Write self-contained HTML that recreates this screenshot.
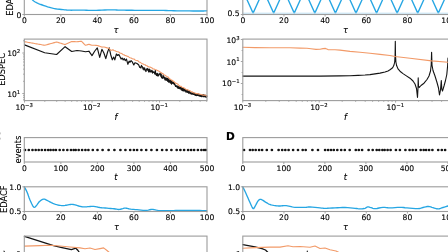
<!DOCTYPE html>
<html><head><meta charset="utf-8"><style>
html,body{margin:0;padding:0;background:#fff;}
body{width:448px;height:252px;overflow:hidden;}
svg{display:block;}
text{font-family:"DejaVu Sans","Liberation Sans",sans-serif;fill:#000000;stroke:#000000;stroke-width:0.12px;}
</style></head><body>
<svg width="448" height="252" viewBox="0 0 448 252">
<rect width="448" height="252" fill="#fff"/>
<polyline points="24.30,-10.30 24.70,-9.91 25.26,-9.38 25.92,-8.74 26.63,-8.03 27.34,-7.28 28.00,-6.50 28.61,-5.66 29.23,-4.71 29.84,-3.71 30.45,-2.73 31.07,-1.80 31.70,-1.00 32.31,-0.33 32.88,0.25 33.46,0.77 34.09,1.25 34.79,1.72 35.60,2.20 36.50,2.68 37.46,3.14 38.49,3.59 39.63,4.04 40.89,4.50 42.30,5.00 43.91,5.56 45.70,6.16 47.62,6.79 49.61,7.39 51.59,7.94 53.50,8.40 55.42,8.76 57.42,9.05 59.41,9.29 61.33,9.48 63.08,9.65 64.60,9.80 65.78,9.93 66.65,10.03 67.37,10.09 68.07,10.14 68.90,10.17 70.00,10.20 71.36,10.21 72.86,10.19 74.49,10.16 76.24,10.12 78.08,10.10 80.00,10.10 82.01,10.14 84.13,10.20 86.34,10.28 88.65,10.35 91.04,10.40 93.50,10.40 96.15,10.34 99.02,10.23 101.97,10.10 104.87,9.97 107.59,9.86 110.00,9.80 111.98,9.80 113.63,9.84 115.09,9.90 116.54,9.97 118.12,10.05 120.00,10.10 122.09,10.14 124.26,10.18 126.56,10.21 129.07,10.24 131.86,10.27 135.00,10.30 138.68,10.32 142.89,10.33 147.38,10.34 151.89,10.35 156.18,10.37 160.00,10.40 163.23,10.45 166.04,10.52 168.62,10.59 171.19,10.67 173.91,10.74 177.00,10.80 180.68,10.85 184.83,10.90 189.15,10.94 193.33,10.97 197.05,10.99 200.00,11.00 202.13,10.99 203.66,10.96 204.74,10.91 205.50,10.87 206.07,10.83 206.60,10.80" fill="none" stroke="#26a6e3" stroke-width="1.35" stroke-linejoin="round" stroke-linecap="round" />
<polyline points="242.80,-9.60 253.09,13.10 263.38,-9.60 273.67,13.10 283.96,-9.60 294.25,13.10 304.54,-9.60 314.83,13.10 325.12,-9.60 335.41,13.10 345.70,-9.60 355.99,13.10 366.28,-9.60 376.57,13.10 386.86,-9.60 397.15,13.10 407.44,-9.60 417.73,13.10 428.02,-9.60 438.31,13.10 448.60,-9.60 458.89,13.10 469.18,-9.60" fill="none" stroke="#26a6e3" stroke-width="1.35" stroke-linejoin="round" stroke-linecap="round" />
<line x1="242.80" y1="13.20" x2="448.00" y2="13.20" stroke="#bfe3f4" stroke-width="1.0"/>
<rect x="24.30" y="-10.30" width="182.70" height="24.80" fill="none" stroke="#9c9c9c" stroke-width="1.1"/>
<rect x="242.80" y="-10.30" width="205.80" height="24.80" fill="none" stroke="#9c9c9c" stroke-width="1.1"/>
<line x1="24.30" y1="14.50" x2="24.30" y2="16.50" stroke="#9c9c9c" stroke-width="0.9"/>
<text x="24.30" y="23.40" text-anchor="middle" font-size="7.6" >0</text>
<line x1="242.80" y1="14.50" x2="242.80" y2="16.50" stroke="#9c9c9c" stroke-width="0.9"/>
<text x="242.80" y="23.40" text-anchor="middle" font-size="7.6" >0</text>
<line x1="60.84" y1="14.50" x2="60.84" y2="16.50" stroke="#9c9c9c" stroke-width="0.9"/>
<text x="60.84" y="23.40" text-anchor="middle" font-size="7.6" >20</text>
<line x1="283.96" y1="14.50" x2="283.96" y2="16.50" stroke="#9c9c9c" stroke-width="0.9"/>
<text x="283.96" y="23.40" text-anchor="middle" font-size="7.6" >20</text>
<line x1="97.38" y1="14.50" x2="97.38" y2="16.50" stroke="#9c9c9c" stroke-width="0.9"/>
<text x="97.38" y="23.40" text-anchor="middle" font-size="7.6" >40</text>
<line x1="325.12" y1="14.50" x2="325.12" y2="16.50" stroke="#9c9c9c" stroke-width="0.9"/>
<text x="325.12" y="23.40" text-anchor="middle" font-size="7.6" >40</text>
<line x1="133.92" y1="14.50" x2="133.92" y2="16.50" stroke="#9c9c9c" stroke-width="0.9"/>
<text x="133.92" y="23.40" text-anchor="middle" font-size="7.6" >60</text>
<line x1="366.28" y1="14.50" x2="366.28" y2="16.50" stroke="#9c9c9c" stroke-width="0.9"/>
<text x="366.28" y="23.40" text-anchor="middle" font-size="7.6" >60</text>
<line x1="170.46" y1="14.50" x2="170.46" y2="16.50" stroke="#9c9c9c" stroke-width="0.9"/>
<text x="170.46" y="23.40" text-anchor="middle" font-size="7.6" >80</text>
<line x1="407.44" y1="14.50" x2="407.44" y2="16.50" stroke="#9c9c9c" stroke-width="0.9"/>
<text x="407.44" y="23.40" text-anchor="middle" font-size="7.6" >80</text>
<line x1="207.00" y1="14.50" x2="207.00" y2="16.50" stroke="#9c9c9c" stroke-width="0.9"/>
<text x="207.00" y="23.40" text-anchor="middle" font-size="7.6" >100</text>
<line x1="448.60" y1="14.50" x2="448.60" y2="16.50" stroke="#9c9c9c" stroke-width="0.9"/>
<text x="448.60" y="23.40" text-anchor="middle" font-size="7.6" >100</text>
<line x1="22.30" y1="14.50" x2="24.30" y2="14.50" stroke="#9c9c9c" stroke-width="0.9"/>
<text x="21.40" y="17.60" text-anchor="end" font-size="7.6" >0</text>
<line x1="240.80" y1="14.50" x2="242.80" y2="14.50" stroke="#9c9c9c" stroke-width="0.9"/>
<text x="239.60" y="16.10" text-anchor="end" font-size="7.6" >0.5</text>
<text x="116.00" y="32.50" text-anchor="middle" font-size="8.3" font-style="italic">τ</text>
<text x="345.40" y="32.50" text-anchor="middle" font-size="8.3" font-style="italic">τ</text>
<text transform="translate(13.0,2.0) rotate(-90)" text-anchor="middle" font-size="8.3">EDACF</text>
<polyline points="24.50,44.90 44.70,52.70 56.60,54.50 65.10,46.70 71.70,51.50 77.00,50.50 81.50,51.00 85.50,51.70 88.90,51.20 92.00,55.60 94.80,51.00 97.30,47.90 99.70,57.40 101.90,49.30 103.90,53.00 105.80,58.60 107.60,52.00 109.20,47.90 110.80,55.00 112.30,59.80 113.70,57.00 114.80,59.90 116.40,54.00 117.70,55.50 118.90,54.50 120.00,56.70 121.10,59.10 122.20,58.00 123.20,59.90 124.20,58.50 125.30,60.70 126.40,59.00 127.90,64.30 129.10,61.10 129.90,62.30 131.10,60.70 132.30,61.90 133.80,65.00 135.00,62.70 137.00,63.50 138.60,64.70 139.80,67.40 140.33,67.01 140.89,68.04 141.44,65.38 141.97,66.46 142.50,66.78 143.02,69.18 143.53,67.75 144.03,70.01 144.53,67.81 145.01,69.11 145.49,70.62 145.96,71.54 146.42,69.58 146.87,68.66 147.32,68.41 147.76,70.35 148.19,69.11 148.62,71.91 149.04,72.06 149.46,69.14 149.87,69.40 150.27,71.60 150.67,71.21 151.07,72.16 151.45,70.79 151.84,70.27 152.22,71.04 152.59,73.12 152.96,71.39 153.32,71.88 153.68,72.31 154.04,72.37 154.39,72.24 154.74,74.03 155.08,71.09 155.42,70.59 155.75,74.35 156.08,74.48 156.41,75.29 156.74,73.59 157.06,75.76 157.37,75.82 157.69,73.33 158.00,75.43 158.30,75.91 158.61,75.40 158.91,74.98 159.21,74.14 159.50,74.26 159.79,73.74 160.08,73.09 160.37,75.08 160.65,74.11 160.93,76.35 161.21,73.83 161.48,77.41 161.76,76.97 162.03,78.10 162.29,78.17 162.56,78.31 162.82,77.20 163.08,75.19 163.34,78.02 163.60,75.97 163.85,76.58 164.10,78.10 164.35,77.79 164.60,77.60 164.84,79.80 165.09,78.81 165.33,78.00 165.57,77.85 165.81,80.27 166.04,78.92 166.28,80.13 166.51,78.57 166.74,78.05 166.96,79.39 167.19,80.55 167.42,78.28 167.64,80.80 167.86,81.52 168.08,81.33 168.30,81.65 168.51,78.84 168.73,81.39 168.94,82.44 169.15,79.55 169.36,80.53 169.57,80.67 169.78,81.79 169.99,81.55 170.19,81.89 170.39,83.17 170.59,80.41 170.79,80.74 170.99,81.07 171.19,81.06 171.39,80.82 171.58,84.15 171.77,83.65 171.97,80.75 172.16,82.51 172.35,82.09 172.54,82.22 172.72,82.46 172.91,83.40 173.09,83.37 173.28,82.89 173.46,82.57 173.64,83.07 173.82,82.65 174.00,83.95 174.18,84.52 174.36,83.77 174.53,83.15 174.71,83.63 174.88,84.38 175.06,85.24 175.23,85.93 175.40,85.03 175.57,86.34 175.74,86.00 175.91,85.59 176.07,85.56 176.24,86.03 176.40,86.74 176.57,86.12 176.73,87.02 176.89,86.53 177.05,86.09 177.22,87.01 177.38,87.56 177.53,85.97 177.69,87.01 177.85,87.05 178.01,88.31 178.16,88.46 178.32,86.92 178.47,88.34 178.62,88.04 178.78,86.62 178.93,87.19 179.08,86.32 179.23,88.28 179.38,87.97 179.52,88.69 179.67,88.55 179.82,88.33 179.97,88.63 180.11,88.28 180.26,87.12 180.40,88.53 180.54,87.04 180.69,87.50 180.83,89.29 180.97,87.38 181.11,87.58 181.25,87.68 181.39,89.88 181.53,88.06 181.67,87.72 181.80,90.03 181.94,88.15 182.08,90.20 182.21,89.82 182.35,90.33 182.48,90.72 182.61,89.77 182.75,90.43 182.88,88.40 183.01,90.43 183.14,89.77 183.27,90.35 183.40,88.73 183.53,90.50 183.66,91.03 183.79,88.69 183.92,89.44 184.04,90.13 184.17,90.90 184.30,89.36 184.42,89.25 184.55,89.50 184.67,90.56 184.80,91.00 184.92,90.09 185.04,90.08 185.16,90.21 185.29,90.14 185.41,90.38 185.53,89.53 185.65,90.72 185.77,92.05 185.89,90.58 186.01,91.54 186.13,90.00 186.24,91.49 186.36,91.71 186.48,91.53 186.59,91.15 186.71,91.10 186.83,91.58 186.94,92.31 187.06,90.32 187.17,90.22 187.28,92.03 187.40,92.54 187.51,91.49 187.62,91.34 187.74,92.13 187.85,90.73 187.96,91.00 188.07,90.87 188.18,91.97 188.29,91.29 188.40,91.11 188.51,92.41 188.62,93.18 188.73,91.44 188.83,92.61 188.94,91.86 189.05,93.11 189.15,92.43 189.26,91.61 189.37,91.52 189.47,91.04 189.58,92.33 189.68,92.12 189.79,91.61 189.89,92.18 190.00,92.14 190.10,93.21 190.20,92.08 190.30,93.71 190.41,92.80 190.51,93.07 190.61,92.87 190.71,93.60 190.81,93.62 190.91,93.17 191.01,93.06 191.11,93.54 191.21,93.83 191.31,93.00 191.41,93.64 191.51,94.08 191.61,93.18 191.71,92.75 191.80,92.77 191.90,93.69 192.00,93.62 192.09,94.16 192.19,93.98 192.29,92.85 192.38,92.76 192.48,92.91 192.57,92.80 192.67,93.79 192.76,94.10 192.86,94.21 192.95,93.03 193.04,94.21 193.14,93.21 193.23,93.45 193.32,94.05 193.41,92.88 193.51,92.93 193.60,94.35 193.69,93.37 193.78,93.52 193.87,93.98 193.96,94.19 194.05,92.97 194.14,93.62 194.23,93.84 194.32,93.96 194.41,93.47 194.50,94.20 194.59,94.93 194.68,93.91 194.76,94.23 194.85,93.48 194.94,93.82 195.03,94.59 195.12,93.60 195.20,95.09 195.29,95.17 195.37,93.70 195.46,95.32 195.55,94.31 195.63,95.09 195.72,95.10 195.80,94.28 195.89,95.02 195.97,95.02 196.06,95.33 196.14,94.34 196.22,95.28 196.31,95.68 196.39,95.15 196.47,94.89 196.56,94.09 196.64,94.80 196.72,94.52 196.81,95.18 196.89,95.09 196.97,94.86 197.05,94.12 197.13,94.97 197.21,94.92 197.29,94.05 197.37,95.37 197.45,94.91 197.53,93.91 197.61,95.41 197.69,93.93 197.77,94.30 197.85,95.03 197.93,94.82 198.01,94.77 198.09,94.97 198.17,94.65 198.25,94.41 198.33,94.19 198.40,94.03 198.48,95.29 198.56,95.40 198.64,95.06 198.71,95.47 198.79,94.81 198.87,94.68 198.94,94.94 199.02,95.90 199.09,94.39 199.17,95.30 199.25,94.85 199.32,95.86 199.40,95.12 199.47,95.11 199.55,95.26 199.62,95.54 199.70,95.99 199.77,95.23 199.84,96.17 199.92,94.82 199.99,95.14 200.07,94.84 200.14,94.88 200.21,96.14 200.29,96.06 200.36,95.07 200.43,95.09 200.50,95.53 200.58,96.16 200.65,96.32 200.72,96.21 200.79,95.93 200.86,95.11 200.93,95.60 201.01,95.23 201.08,95.87 201.15,95.96 201.22,95.29 201.29,95.39 201.36,96.39 201.43,94.99 201.50,96.44 201.57,96.60 201.64,96.71 201.71,95.64 201.78,95.95 201.85,96.00 201.92,96.09 201.99,96.72 202.05,96.17 202.12,95.43 202.19,96.47 202.26,95.76 202.33,95.97 202.40,96.19 202.46,94.83 202.53,96.26 202.60,96.05 202.67,95.73 202.73,95.79 202.80,95.67 202.87,95.17 202.93,95.80 203.00,94.89 203.07,95.77 203.13,96.05 203.20,95.68 203.26,95.91 203.33,96.65 203.40,96.53 203.46,95.12 203.53,96.36 203.59,96.05 203.66,94.98 203.72,95.56 203.79,95.33 203.85,95.05 203.92,95.91 203.98,96.65 204.04,95.52 204.11,96.55 204.17,96.23 204.24,95.18 204.30,96.54 204.36,96.07 204.43,96.68 204.49,96.29 204.55,96.35 204.62,95.61 204.68,96.49 204.74,96.73 204.80,96.61 204.87,95.83 204.93,96.45 204.99,95.96 205.05,95.28 205.12,95.18 205.18,95.28 205.24,95.53 205.30,95.49 205.36,96.15 205.42,96.56 205.48,96.29 205.54,96.11 205.61,96.56 205.67,95.95 205.73,96.28 205.79,96.86 205.85,96.22 205.91,95.84 205.97,97.21 206.03,96.90 206.09,96.26 206.15,96.29 206.21,96.60 206.27,96.75 206.33,96.06 206.39,95.66 206.45,96.05 206.50,97.13 206.56,95.94 206.62,96.53 206.68,96.03 206.74,96.05 206.80,95.97 206.80,96.40" fill="none" stroke="#141414" stroke-width="1.15" stroke-linejoin="round" stroke-linecap="round" />
<polyline points="24.50,41.70 25.51,41.88 26.52,42.06 27.53,42.24 28.54,42.42 29.55,42.60 30.56,42.78 31.57,42.96 32.58,43.14 33.59,43.32 34.60,43.50 35.61,43.68 36.62,43.86 37.63,44.04 38.64,44.22 39.65,44.40 40.66,44.58 41.67,44.76 42.68,44.94 43.69,45.12 44.70,45.30 45.78,45.00 46.86,44.70 47.95,44.40 49.03,44.10 50.11,43.80 51.19,43.50 52.27,43.20 53.35,42.90 54.44,42.60 55.52,42.30 56.60,42.00 57.66,42.33 58.73,42.65 59.79,42.98 60.85,43.30 61.91,43.62 62.97,43.95 64.04,44.27 65.10,44.60 66.20,44.10 67.30,43.60 68.40,43.10 69.50,42.60 70.60,42.10 71.70,41.60 72.76,41.62 73.82,41.64 74.88,41.66 75.94,41.68 77.00,41.70 78.08,41.58 79.15,41.45 80.22,41.33 81.30,41.20 82.35,42.23 83.40,43.25 84.45,44.27 85.50,45.30 86.63,44.97 87.77,44.63 88.90,44.30 89.93,44.63 90.97,44.97 92.00,45.30 93.40,45.25 94.80,45.20 96.05,45.35 97.30,45.50 98.50,45.85 99.70,46.20 100.80,46.65 101.90,47.10 102.95,47.05 104.00,47.00 105.13,47.30 106.27,47.60 107.40,47.90 109.20,48.60 110.80,50.30 111.90,50.15 113.00,49.82 114.00,50.43 115.00,50.71 116.00,51.31 117.00,51.77 118.00,51.82 119.00,52.22 120.00,53.24 121.00,53.27 122.00,53.69 123.00,54.67 124.00,54.74 125.00,55.44 126.00,55.64 127.00,56.22 128.00,56.34 129.00,57.13 130.00,57.76 131.00,57.97 132.00,58.57 133.00,58.97 134.00,58.99 135.00,59.91 136.00,60.23 137.00,60.46 138.00,60.81 139.00,61.92 140.00,62.18 141.00,62.87 142.00,63.51 143.00,63.91 144.00,64.57 145.00,64.73 146.00,65.51 147.00,65.76 148.00,66.60 149.00,67.07 150.00,67.02 151.00,67.47 152.00,67.94 153.00,68.89 154.00,68.94 155.00,69.49 156.00,69.74 157.00,70.37 158.00,70.76 159.00,71.22 160.00,71.86 161.00,72.48 162.00,73.33 163.00,73.80 164.00,74.60 165.00,75.27 166.00,76.09 167.00,76.59 168.00,76.96 169.00,78.20 170.00,79.03 171.00,79.73 172.00,80.25 173.00,81.12 174.00,81.53 175.00,82.73 176.00,83.25 177.00,83.75 178.00,84.29 179.00,85.55 180.00,86.34 181.00,86.25 182.00,87.29 183.00,87.56 184.00,87.92 185.00,88.56 186.00,89.37 187.00,89.92 188.00,89.82 189.00,90.70 190.00,90.78 191.00,91.63 192.00,91.74 193.00,92.51 194.00,92.96 195.00,93.00 196.00,93.65 197.00,93.47 198.00,93.60 199.00,94.27 200.00,94.17 201.13,94.50 202.27,94.87 203.40,95.23 204.53,95.13 205.67,95.26 206.80,96.06" fill="none" stroke="#f29a68" stroke-width="1.1" stroke-linejoin="round" stroke-linecap="round" />
<polyline points="242.80,76.10 320.00,76.10 340.00,75.90 350.00,75.70 358.00,75.40 365.00,75.00 370.00,74.60 375.00,73.90 380.00,73.10 385.00,72.00 388.00,70.90 390.00,69.80 392.00,68.30 393.00,67.10 394.00,65.00 394.70,62.00 395.10,55.00 395.30,41.20 395.50,55.00 395.90,62.00 396.60,65.50 398.00,68.90 400.00,71.20 403.00,73.60 406.00,75.60 410.00,78.20 413.00,81.00 415.00,84.00 416.50,88.50 417.50,97.50 418.00,88.00 418.20,77.90 418.50,86.00 419.30,87.50 421.00,85.50 424.00,83.20 427.00,79.50 429.00,76.00 430.50,71.00 431.20,65.00 431.60,52.20 432.00,65.00 433.00,70.50 435.00,76.00 437.00,82.50 438.50,88.00 439.50,94.90 440.50,90.00 441.30,80.50 441.80,89.00 442.50,91.00 444.00,86.00 445.50,80.50 446.80,74.50 447.60,66.00 448.00,58.00" fill="none" stroke="#141414" stroke-width="1.1" stroke-linejoin="round" stroke-linecap="round" />
<polyline points="242.80,47.30 255.00,47.60 270.00,47.80 280.00,47.70 290.00,47.80 300.00,48.10 307.00,48.30 311.00,48.70 316.00,49.40 320.00,49.30 323.00,48.60 325.50,48.40 328.00,49.60 335.00,49.80 340.00,50.10 350.00,51.40 360.00,52.30 370.00,53.20 380.00,54.40 390.00,55.50 395.00,56.50 410.00,58.30 431.60,60.90 448.00,62.20" fill="none" stroke="#f29a68" stroke-width="1.1" stroke-linejoin="round" stroke-linecap="round" />
<rect x="24.30" y="39.10" width="182.70" height="61.50" fill="none" stroke="#9c9c9c" stroke-width="1.1"/>
<rect x="242.80" y="39.10" width="205.80" height="61.50" fill="none" stroke="#9c9c9c" stroke-width="1.1"/>
<line x1="24.50" y1="100.60" x2="24.50" y2="102.60" stroke="#9c9c9c" stroke-width="0.9"/>
<text x="24.20" y="110.00" text-anchor="middle" font-size="7.6">10<tspan font-size="5.32" dy="-3.2">−3</tspan></text>
<line x1="242.80" y1="100.60" x2="242.80" y2="102.60" stroke="#9c9c9c" stroke-width="0.9"/>
<text x="242.50" y="110.00" text-anchor="middle" font-size="7.6">10<tspan font-size="5.32" dy="-3.2">−3</tspan></text>
<line x1="92.00" y1="100.60" x2="92.00" y2="102.60" stroke="#9c9c9c" stroke-width="0.9"/>
<text x="91.70" y="110.00" text-anchor="middle" font-size="7.6">10<tspan font-size="5.32" dy="-3.2">−2</tspan></text>
<line x1="319.20" y1="100.60" x2="319.20" y2="102.60" stroke="#9c9c9c" stroke-width="0.9"/>
<text x="318.90" y="110.00" text-anchor="middle" font-size="7.6">10<tspan font-size="5.32" dy="-3.2">−2</tspan></text>
<line x1="159.50" y1="100.60" x2="159.50" y2="102.60" stroke="#9c9c9c" stroke-width="0.9"/>
<text x="159.20" y="110.00" text-anchor="middle" font-size="7.6">10<tspan font-size="5.32" dy="-3.2">−1</tspan></text>
<line x1="395.60" y1="100.60" x2="395.60" y2="102.60" stroke="#9c9c9c" stroke-width="0.9"/>
<text x="395.30" y="110.00" text-anchor="middle" font-size="7.6">10<tspan font-size="5.32" dy="-3.2">−1</tspan></text>
<line x1="44.82" y1="100.60" x2="44.82" y2="101.80" stroke="#9c9c9c" stroke-width="0.9"/>
<line x1="265.80" y1="100.60" x2="265.80" y2="101.80" stroke="#9c9c9c" stroke-width="0.9"/>
<line x1="56.71" y1="100.60" x2="56.71" y2="101.80" stroke="#9c9c9c" stroke-width="0.9"/>
<line x1="279.25" y1="100.60" x2="279.25" y2="101.80" stroke="#9c9c9c" stroke-width="0.9"/>
<line x1="65.14" y1="100.60" x2="65.14" y2="101.80" stroke="#9c9c9c" stroke-width="0.9"/>
<line x1="288.80" y1="100.60" x2="288.80" y2="101.80" stroke="#9c9c9c" stroke-width="0.9"/>
<line x1="71.68" y1="100.60" x2="71.68" y2="101.80" stroke="#9c9c9c" stroke-width="0.9"/>
<line x1="296.20" y1="100.60" x2="296.20" y2="101.80" stroke="#9c9c9c" stroke-width="0.9"/>
<line x1="77.03" y1="100.60" x2="77.03" y2="101.80" stroke="#9c9c9c" stroke-width="0.9"/>
<line x1="302.25" y1="100.60" x2="302.25" y2="101.80" stroke="#9c9c9c" stroke-width="0.9"/>
<line x1="81.54" y1="100.60" x2="81.54" y2="101.80" stroke="#9c9c9c" stroke-width="0.9"/>
<line x1="307.37" y1="100.60" x2="307.37" y2="101.80" stroke="#9c9c9c" stroke-width="0.9"/>
<line x1="85.46" y1="100.60" x2="85.46" y2="101.80" stroke="#9c9c9c" stroke-width="0.9"/>
<line x1="311.80" y1="100.60" x2="311.80" y2="101.80" stroke="#9c9c9c" stroke-width="0.9"/>
<line x1="88.91" y1="100.60" x2="88.91" y2="101.80" stroke="#9c9c9c" stroke-width="0.9"/>
<line x1="315.70" y1="100.60" x2="315.70" y2="101.80" stroke="#9c9c9c" stroke-width="0.9"/>
<line x1="112.32" y1="100.60" x2="112.32" y2="101.80" stroke="#9c9c9c" stroke-width="0.9"/>
<line x1="342.20" y1="100.60" x2="342.20" y2="101.80" stroke="#9c9c9c" stroke-width="0.9"/>
<line x1="124.21" y1="100.60" x2="124.21" y2="101.80" stroke="#9c9c9c" stroke-width="0.9"/>
<line x1="355.65" y1="100.60" x2="355.65" y2="101.80" stroke="#9c9c9c" stroke-width="0.9"/>
<line x1="132.64" y1="100.60" x2="132.64" y2="101.80" stroke="#9c9c9c" stroke-width="0.9"/>
<line x1="365.20" y1="100.60" x2="365.20" y2="101.80" stroke="#9c9c9c" stroke-width="0.9"/>
<line x1="139.18" y1="100.60" x2="139.18" y2="101.80" stroke="#9c9c9c" stroke-width="0.9"/>
<line x1="372.60" y1="100.60" x2="372.60" y2="101.80" stroke="#9c9c9c" stroke-width="0.9"/>
<line x1="144.53" y1="100.60" x2="144.53" y2="101.80" stroke="#9c9c9c" stroke-width="0.9"/>
<line x1="378.65" y1="100.60" x2="378.65" y2="101.80" stroke="#9c9c9c" stroke-width="0.9"/>
<line x1="149.04" y1="100.60" x2="149.04" y2="101.80" stroke="#9c9c9c" stroke-width="0.9"/>
<line x1="383.77" y1="100.60" x2="383.77" y2="101.80" stroke="#9c9c9c" stroke-width="0.9"/>
<line x1="152.96" y1="100.60" x2="152.96" y2="101.80" stroke="#9c9c9c" stroke-width="0.9"/>
<line x1="388.20" y1="100.60" x2="388.20" y2="101.80" stroke="#9c9c9c" stroke-width="0.9"/>
<line x1="156.41" y1="100.60" x2="156.41" y2="101.80" stroke="#9c9c9c" stroke-width="0.9"/>
<line x1="392.10" y1="100.60" x2="392.10" y2="101.80" stroke="#9c9c9c" stroke-width="0.9"/>
<line x1="179.82" y1="100.60" x2="179.82" y2="101.80" stroke="#9c9c9c" stroke-width="0.9"/>
<line x1="418.60" y1="100.60" x2="418.60" y2="101.80" stroke="#9c9c9c" stroke-width="0.9"/>
<line x1="191.71" y1="100.60" x2="191.71" y2="101.80" stroke="#9c9c9c" stroke-width="0.9"/>
<line x1="432.05" y1="100.60" x2="432.05" y2="101.80" stroke="#9c9c9c" stroke-width="0.9"/>
<line x1="200.14" y1="100.60" x2="200.14" y2="101.80" stroke="#9c9c9c" stroke-width="0.9"/>
<line x1="441.60" y1="100.60" x2="441.60" y2="101.80" stroke="#9c9c9c" stroke-width="0.9"/>
<line x1="206.68" y1="100.60" x2="206.68" y2="101.80" stroke="#9c9c9c" stroke-width="0.9"/>
<line x1="22.30" y1="93.50" x2="24.30" y2="93.50" stroke="#9c9c9c" stroke-width="0.9"/>
<text x="20.20" y="96.70" text-anchor="end" font-size="7.6">10<tspan font-size="5.32" dy="-3.2">1</tspan></text>
<line x1="22.30" y1="53.00" x2="24.30" y2="53.00" stroke="#9c9c9c" stroke-width="0.9"/>
<text x="20.20" y="56.20" text-anchor="end" font-size="7.6">10<tspan font-size="5.32" dy="-3.2">2</tspan></text>
<line x1="23.10" y1="99.77" x2="24.30" y2="99.77" stroke="#9c9c9c" stroke-width="0.9"/>
<line x1="23.10" y1="97.42" x2="24.30" y2="97.42" stroke="#9c9c9c" stroke-width="0.9"/>
<line x1="23.10" y1="95.35" x2="24.30" y2="95.35" stroke="#9c9c9c" stroke-width="0.9"/>
<line x1="23.10" y1="81.31" x2="24.30" y2="81.31" stroke="#9c9c9c" stroke-width="0.9"/>
<line x1="23.10" y1="74.18" x2="24.30" y2="74.18" stroke="#9c9c9c" stroke-width="0.9"/>
<line x1="23.10" y1="69.12" x2="24.30" y2="69.12" stroke="#9c9c9c" stroke-width="0.9"/>
<line x1="23.10" y1="65.19" x2="24.30" y2="65.19" stroke="#9c9c9c" stroke-width="0.9"/>
<line x1="23.10" y1="61.98" x2="24.30" y2="61.98" stroke="#9c9c9c" stroke-width="0.9"/>
<line x1="23.10" y1="59.27" x2="24.30" y2="59.27" stroke="#9c9c9c" stroke-width="0.9"/>
<line x1="23.10" y1="56.92" x2="24.30" y2="56.92" stroke="#9c9c9c" stroke-width="0.9"/>
<line x1="23.10" y1="54.85" x2="24.30" y2="54.85" stroke="#9c9c9c" stroke-width="0.9"/>
<line x1="23.10" y1="40.81" x2="24.30" y2="40.81" stroke="#9c9c9c" stroke-width="0.9"/>
<line x1="240.80" y1="39.50" x2="242.80" y2="39.50" stroke="#9c9c9c" stroke-width="0.9"/>
<text x="239.60" y="42.70" text-anchor="end" font-size="7.6">10<tspan font-size="5.32" dy="-3.2">3</tspan></text>
<line x1="240.80" y1="61.50" x2="242.80" y2="61.50" stroke="#9c9c9c" stroke-width="0.9"/>
<text x="239.60" y="64.70" text-anchor="end" font-size="7.6">10<tspan font-size="5.32" dy="-3.2">1</tspan></text>
<line x1="240.80" y1="83.50" x2="242.80" y2="83.50" stroke="#9c9c9c" stroke-width="0.9"/>
<text x="239.60" y="85.90" text-anchor="end" font-size="7.6">10<tspan font-size="5.32" dy="-3.2">−1</tspan></text>
<line x1="241.60" y1="94.50" x2="242.80" y2="94.50" stroke="#9c9c9c" stroke-width="0.9"/>
<line x1="241.60" y1="72.50" x2="242.80" y2="72.50" stroke="#9c9c9c" stroke-width="0.9"/>
<line x1="241.60" y1="50.50" x2="242.80" y2="50.50" stroke="#9c9c9c" stroke-width="0.9"/>
<text x="116.00" y="119.80" text-anchor="middle" font-size="8.3" font-style="italic">f</text>
<text x="345.40" y="119.80" text-anchor="middle" font-size="8.3" font-style="italic">f</text>
<text transform="translate(5.4,69.4) rotate(-90)" text-anchor="middle" font-size="8.3">EDSPEC</text>
<circle cx="25.00" cy="150.00" r="1.35" fill="#141414"/>
<circle cx="28.80" cy="150.00" r="1.35" fill="#141414"/>
<circle cx="32.50" cy="150.00" r="1.35" fill="#141414"/>
<circle cx="35.70" cy="150.00" r="1.35" fill="#141414"/>
<circle cx="38.70" cy="150.00" r="1.35" fill="#141414"/>
<circle cx="41.80" cy="150.00" r="1.35" fill="#141414"/>
<circle cx="45.10" cy="150.00" r="1.35" fill="#141414"/>
<circle cx="48.20" cy="150.00" r="1.35" fill="#141414"/>
<circle cx="50.60" cy="150.00" r="1.35" fill="#141414"/>
<circle cx="53.40" cy="150.00" r="1.35" fill="#141414"/>
<circle cx="55.90" cy="150.00" r="1.35" fill="#141414"/>
<circle cx="59.70" cy="150.00" r="1.35" fill="#141414"/>
<circle cx="63.40" cy="150.00" r="1.35" fill="#141414"/>
<circle cx="67.30" cy="150.00" r="1.35" fill="#141414"/>
<circle cx="71.00" cy="150.00" r="1.35" fill="#141414"/>
<circle cx="73.70" cy="150.00" r="1.35" fill="#141414"/>
<circle cx="75.70" cy="150.00" r="1.35" fill="#141414"/>
<circle cx="78.70" cy="150.00" r="1.35" fill="#141414"/>
<circle cx="82.10" cy="150.00" r="1.35" fill="#141414"/>
<circle cx="85.40" cy="150.00" r="1.35" fill="#141414"/>
<circle cx="88.40" cy="150.00" r="1.35" fill="#141414"/>
<circle cx="92.80" cy="150.00" r="1.35" fill="#141414"/>
<circle cx="97.50" cy="150.00" r="1.35" fill="#141414"/>
<circle cx="102.60" cy="150.00" r="1.35" fill="#141414"/>
<circle cx="108.60" cy="150.00" r="1.35" fill="#141414"/>
<circle cx="114.40" cy="150.00" r="1.35" fill="#141414"/>
<circle cx="120.40" cy="150.00" r="1.35" fill="#141414"/>
<circle cx="125.40" cy="150.00" r="1.35" fill="#141414"/>
<circle cx="130.20" cy="150.00" r="1.35" fill="#141414"/>
<circle cx="133.90" cy="150.00" r="1.35" fill="#141414"/>
<circle cx="137.10" cy="150.00" r="1.35" fill="#141414"/>
<circle cx="141.40" cy="150.00" r="1.35" fill="#141414"/>
<circle cx="146.20" cy="150.00" r="1.35" fill="#141414"/>
<circle cx="151.40" cy="150.00" r="1.35" fill="#141414"/>
<circle cx="156.90" cy="150.00" r="1.35" fill="#141414"/>
<circle cx="162.10" cy="150.00" r="1.35" fill="#141414"/>
<circle cx="166.60" cy="150.00" r="1.35" fill="#141414"/>
<circle cx="171.40" cy="150.00" r="1.35" fill="#141414"/>
<circle cx="176.70" cy="150.00" r="1.35" fill="#141414"/>
<circle cx="180.40" cy="150.00" r="1.35" fill="#141414"/>
<circle cx="184.10" cy="150.00" r="1.35" fill="#141414"/>
<circle cx="188.10" cy="150.00" r="1.35" fill="#141414"/>
<circle cx="191.10" cy="150.00" r="1.35" fill="#141414"/>
<circle cx="194.10" cy="150.00" r="1.35" fill="#141414"/>
<circle cx="197.90" cy="150.00" r="1.35" fill="#141414"/>
<circle cx="201.40" cy="150.00" r="1.35" fill="#141414"/>
<circle cx="204.00" cy="150.00" r="1.35" fill="#141414"/>
<circle cx="205.80" cy="150.00" r="1.35" fill="#141414"/>
<circle cx="244.00" cy="150.00" r="1.35" fill="#141414"/>
<circle cx="250.00" cy="150.00" r="1.35" fill="#141414"/>
<circle cx="252.70" cy="150.00" r="1.35" fill="#141414"/>
<circle cx="255.70" cy="150.00" r="1.35" fill="#141414"/>
<circle cx="259.10" cy="150.00" r="1.35" fill="#141414"/>
<circle cx="262.10" cy="150.00" r="1.35" fill="#141414"/>
<circle cx="266.80" cy="150.00" r="1.35" fill="#141414"/>
<circle cx="271.90" cy="150.00" r="1.35" fill="#141414"/>
<circle cx="278.60" cy="150.00" r="1.35" fill="#141414"/>
<circle cx="282.20" cy="150.00" r="1.35" fill="#141414"/>
<circle cx="285.30" cy="150.00" r="1.35" fill="#141414"/>
<circle cx="288.60" cy="150.00" r="1.35" fill="#141414"/>
<circle cx="293.10" cy="150.00" r="1.35" fill="#141414"/>
<circle cx="298.00" cy="150.00" r="1.35" fill="#141414"/>
<circle cx="302.70" cy="150.00" r="1.35" fill="#141414"/>
<circle cx="305.70" cy="150.00" r="1.35" fill="#141414"/>
<circle cx="312.40" cy="150.00" r="1.35" fill="#141414"/>
<circle cx="318.00" cy="150.00" r="1.35" fill="#141414"/>
<circle cx="325.10" cy="150.00" r="1.35" fill="#141414"/>
<circle cx="328.10" cy="150.00" r="1.35" fill="#141414"/>
<circle cx="331.00" cy="150.00" r="1.35" fill="#141414"/>
<circle cx="333.80" cy="150.00" r="1.35" fill="#141414"/>
<circle cx="337.30" cy="150.00" r="1.35" fill="#141414"/>
<circle cx="341.20" cy="150.00" r="1.35" fill="#141414"/>
<circle cx="344.80" cy="150.00" r="1.35" fill="#141414"/>
<circle cx="349.70" cy="150.00" r="1.35" fill="#141414"/>
<circle cx="355.80" cy="150.00" r="1.35" fill="#141414"/>
<circle cx="358.80" cy="150.00" r="1.35" fill="#141414"/>
<circle cx="362.10" cy="150.00" r="1.35" fill="#141414"/>
<circle cx="368.60" cy="150.00" r="1.35" fill="#141414"/>
<circle cx="372.70" cy="150.00" r="1.35" fill="#141414"/>
<circle cx="376.70" cy="150.00" r="1.35" fill="#141414"/>
<circle cx="379.30" cy="150.00" r="1.35" fill="#141414"/>
<circle cx="382.40" cy="150.00" r="1.35" fill="#141414"/>
<circle cx="384.60" cy="150.00" r="1.35" fill="#141414"/>
<circle cx="387.60" cy="150.00" r="1.35" fill="#141414"/>
<circle cx="390.60" cy="150.00" r="1.35" fill="#141414"/>
<circle cx="395.90" cy="150.00" r="1.35" fill="#141414"/>
<circle cx="399.90" cy="150.00" r="1.35" fill="#141414"/>
<circle cx="405.40" cy="150.00" r="1.35" fill="#141414"/>
<circle cx="409.60" cy="150.00" r="1.35" fill="#141414"/>
<circle cx="412.70" cy="150.00" r="1.35" fill="#141414"/>
<circle cx="415.90" cy="150.00" r="1.35" fill="#141414"/>
<circle cx="420.70" cy="150.00" r="1.35" fill="#141414"/>
<circle cx="423.70" cy="150.00" r="1.35" fill="#141414"/>
<circle cx="426.10" cy="150.00" r="1.35" fill="#141414"/>
<circle cx="429.10" cy="150.00" r="1.35" fill="#141414"/>
<circle cx="432.40" cy="150.00" r="1.35" fill="#141414"/>
<circle cx="438.20" cy="150.00" r="1.35" fill="#141414"/>
<circle cx="441.80" cy="150.00" r="1.35" fill="#141414"/>
<circle cx="445.10" cy="150.00" r="1.35" fill="#141414"/>
<rect x="24.30" y="137.60" width="182.70" height="24.40" fill="none" stroke="#9c9c9c" stroke-width="1.1"/>
<rect x="242.80" y="137.60" width="205.80" height="24.40" fill="none" stroke="#9c9c9c" stroke-width="1.1"/>
<line x1="24.30" y1="162.00" x2="24.30" y2="164.00" stroke="#9c9c9c" stroke-width="0.9"/>
<text x="24.30" y="171.00" text-anchor="middle" font-size="7.6" >0</text>
<line x1="242.80" y1="162.00" x2="242.80" y2="164.00" stroke="#9c9c9c" stroke-width="0.9"/>
<text x="242.80" y="171.00" text-anchor="middle" font-size="7.6" >0</text>
<line x1="60.84" y1="162.00" x2="60.84" y2="164.00" stroke="#9c9c9c" stroke-width="0.9"/>
<text x="60.84" y="171.00" text-anchor="middle" font-size="7.6" >100</text>
<line x1="283.84" y1="162.00" x2="283.84" y2="164.00" stroke="#9c9c9c" stroke-width="0.9"/>
<text x="283.84" y="171.00" text-anchor="middle" font-size="7.6" >100</text>
<line x1="97.38" y1="162.00" x2="97.38" y2="164.00" stroke="#9c9c9c" stroke-width="0.9"/>
<text x="97.38" y="171.00" text-anchor="middle" font-size="7.6" >200</text>
<line x1="324.88" y1="162.00" x2="324.88" y2="164.00" stroke="#9c9c9c" stroke-width="0.9"/>
<text x="324.88" y="171.00" text-anchor="middle" font-size="7.6" >200</text>
<line x1="133.92" y1="162.00" x2="133.92" y2="164.00" stroke="#9c9c9c" stroke-width="0.9"/>
<text x="133.92" y="171.00" text-anchor="middle" font-size="7.6" >300</text>
<line x1="365.92" y1="162.00" x2="365.92" y2="164.00" stroke="#9c9c9c" stroke-width="0.9"/>
<text x="365.92" y="171.00" text-anchor="middle" font-size="7.6" >300</text>
<line x1="170.46" y1="162.00" x2="170.46" y2="164.00" stroke="#9c9c9c" stroke-width="0.9"/>
<text x="170.46" y="171.00" text-anchor="middle" font-size="7.6" >400</text>
<line x1="406.96" y1="162.00" x2="406.96" y2="164.00" stroke="#9c9c9c" stroke-width="0.9"/>
<text x="406.96" y="171.00" text-anchor="middle" font-size="7.6" >400</text>
<line x1="207.00" y1="162.00" x2="207.00" y2="164.00" stroke="#9c9c9c" stroke-width="0.9"/>
<text x="207.00" y="171.00" text-anchor="middle" font-size="7.6" >500</text>
<line x1="448.00" y1="162.00" x2="448.00" y2="164.00" stroke="#9c9c9c" stroke-width="0.9"/>
<text x="448.00" y="171.00" text-anchor="middle" font-size="7.6" >500</text>
<text x="116.00" y="180.20" text-anchor="middle" font-size="8.3" font-style="italic">t</text>
<text x="345.40" y="180.20" text-anchor="middle" font-size="8.3" font-style="italic">t</text>
<text transform="translate(21.2,149.6) rotate(-90)" text-anchor="middle" font-size="8.3">events</text>
<text x="226.0" y="139.6" font-size="10.6" font-weight="bold">D</text>
<text x="-6.95" y="139.6" font-size="10.6" font-weight="bold">C</text>
<polyline points="24.30,186.80 24.78,187.67 25.46,188.90 26.24,190.38 27.00,192.00 27.71,193.83 28.44,195.89 29.20,198.00 30.00,200.00 30.89,202.01 31.84,204.06 32.77,205.84 33.60,207.00 34.26,207.39 34.81,207.22 35.35,206.68 36.00,206.00 36.78,205.07 37.64,203.84 38.56,202.56 39.50,201.50 40.50,200.67 41.56,199.94 42.61,199.40 43.60,199.10 44.44,199.10 45.19,199.36 45.99,199.78 47.00,200.30 48.32,200.98 49.84,201.83 51.42,202.69 52.90,203.40 54.24,203.93 55.51,204.36 56.76,204.71 58.00,205.00 59.26,205.25 60.51,205.43 61.74,205.55 62.90,205.60 63.97,205.56 64.98,205.43 65.97,205.26 67.00,205.10 68.10,204.91 69.23,204.69 70.35,204.50 71.40,204.40 72.32,204.42 73.16,204.52 74.02,204.68 75.00,204.90 76.17,205.21 77.45,205.59 78.76,205.99 80.00,206.30 81.14,206.53 82.22,206.71 83.30,206.83 84.40,206.90 85.53,206.89 86.68,206.80 87.83,206.69 89.00,206.60 90.14,206.51 91.27,206.41 92.45,206.36 93.75,206.40 95.19,206.59 96.73,206.89 98.35,207.22 100.00,207.50 101.70,207.71 103.45,207.88 105.23,208.04 107.00,208.20 108.80,208.34 110.64,208.47 112.41,208.60 114.00,208.75 115.38,208.96 116.61,209.20 117.72,209.41 118.75,209.50 119.67,209.43 120.48,209.24 121.24,209.01 122.00,208.80 122.77,208.60 123.52,208.38 124.26,208.19 125.00,208.10 125.75,208.14 126.50,208.27 127.25,208.44 128.00,208.60 128.68,208.75 129.31,208.90 130.04,209.05 131.00,209.20 132.24,209.32 133.69,209.44 135.29,209.56 137.00,209.70 138.91,209.92 141.00,210.19 143.09,210.42 145.00,210.50 146.71,210.35 148.31,210.04 149.76,209.71 151.00,209.50 151.89,209.43 152.50,209.43 153.11,209.49 154.00,209.60 155.17,209.81 156.50,210.11 158.08,210.40 160.00,210.60 162.45,210.67 165.31,210.68 168.27,210.64 171.00,210.60 173.44,210.56 175.75,210.51 177.94,210.45 180.00,210.40 181.82,210.36 183.44,210.33 185.09,210.30 187.00,210.30 189.30,210.33 191.84,210.39 194.46,210.45 197.00,210.50 199.65,210.53 202.43,210.56 204.88,210.58 206.60,210.60" fill="none" stroke="#26a6e3" stroke-width="1.35" stroke-linejoin="round" stroke-linecap="round" />
<polyline points="242.80,186.80 243.36,187.95 244.15,189.59 245.07,191.51 246.00,193.50 246.96,195.66 248.01,198.04 249.04,200.40 250.00,202.50 250.85,204.44 251.65,206.31 252.40,207.79 253.10,208.60 253.75,208.50 254.34,207.71 254.91,206.59 255.50,205.50 256.12,204.41 256.76,203.16 257.39,201.96 258.00,201.00 258.58,200.31 259.14,199.80 259.70,199.46 260.30,199.30 260.94,199.36 261.61,199.62 262.29,200.00 263.00,200.40 263.71,200.83 264.42,201.34 265.17,201.87 266.00,202.40 266.91,202.94 267.88,203.51 268.91,204.04 270.00,204.50 271.18,204.86 272.44,205.16 273.73,205.40 275.00,205.60 276.25,205.77 277.50,205.89 278.75,205.97 280.00,206.00 281.25,205.93 282.50,205.78 283.75,205.64 285.00,205.60 286.25,205.69 287.50,205.86 288.75,206.08 290.00,206.30 291.13,206.55 292.19,206.84 293.40,207.11 295.00,207.30 297.27,207.38 300.00,207.38 302.73,207.34 305.00,207.30 306.48,207.22 307.50,207.09 308.52,207.00 310.00,207.00 312.27,207.15 315.00,207.41 317.73,207.68 320.00,207.90 321.48,208.05 322.50,208.18 323.52,208.27 325.00,208.30 327.15,208.26 329.69,208.15 332.38,208.02 335.00,207.90 337.50,207.77 340.00,207.62 342.50,207.52 345.00,207.50 347.62,207.62 350.31,207.84 352.85,208.09 355.00,208.30 356.60,208.49 357.81,208.69 358.87,208.84 360.00,208.90 361.30,208.86 362.64,208.73 363.91,208.54 365.00,208.30 365.82,207.93 366.46,207.46 367.04,207.03 367.70,206.80 368.46,206.83 369.25,207.04 370.09,207.33 371.00,207.60 371.93,207.91 372.88,208.29 373.96,208.59 375.30,208.70 377.00,208.48 378.98,208.03 381.04,207.57 383.00,207.30 384.73,207.34 386.36,207.55 388.06,207.79 390.00,207.90 392.36,207.81 395.00,207.60 397.64,207.39 400.00,207.30 401.87,207.36 403.44,207.51 405.04,207.71 407.00,207.90 409.61,208.13 412.62,208.41 415.58,208.64 418.00,208.70 419.66,208.54 420.84,208.22 421.86,207.84 423.00,207.50 424.36,207.16 425.78,206.79 427.18,206.50 428.50,206.40 429.68,206.56 430.78,206.91 431.86,207.33 433.00,207.70 434.21,208.07 435.47,208.47 436.74,208.79 438.00,208.90 439.25,208.74 440.50,208.37 441.75,207.92 443.00,207.50 444.37,207.10 445.81,206.66 447.10,206.27 448.00,206.00" fill="none" stroke="#26a6e3" stroke-width="1.35" stroke-linejoin="round" stroke-linecap="round" />
<rect x="24.30" y="186.80" width="182.70" height="24.70" fill="none" stroke="#9c9c9c" stroke-width="1.1"/>
<rect x="242.80" y="186.80" width="205.80" height="24.70" fill="none" stroke="#9c9c9c" stroke-width="1.1"/>
<line x1="24.30" y1="211.50" x2="24.30" y2="213.50" stroke="#9c9c9c" stroke-width="0.9"/>
<text x="24.30" y="220.20" text-anchor="middle" font-size="7.6" >0</text>
<line x1="242.80" y1="211.50" x2="242.80" y2="213.50" stroke="#9c9c9c" stroke-width="0.9"/>
<text x="242.80" y="220.20" text-anchor="middle" font-size="7.6" >0</text>
<line x1="60.84" y1="211.50" x2="60.84" y2="213.50" stroke="#9c9c9c" stroke-width="0.9"/>
<text x="60.84" y="220.20" text-anchor="middle" font-size="7.6" >20</text>
<line x1="283.96" y1="211.50" x2="283.96" y2="213.50" stroke="#9c9c9c" stroke-width="0.9"/>
<text x="283.96" y="220.20" text-anchor="middle" font-size="7.6" >20</text>
<line x1="97.38" y1="211.50" x2="97.38" y2="213.50" stroke="#9c9c9c" stroke-width="0.9"/>
<text x="97.38" y="220.20" text-anchor="middle" font-size="7.6" >40</text>
<line x1="325.12" y1="211.50" x2="325.12" y2="213.50" stroke="#9c9c9c" stroke-width="0.9"/>
<text x="325.12" y="220.20" text-anchor="middle" font-size="7.6" >40</text>
<line x1="133.92" y1="211.50" x2="133.92" y2="213.50" stroke="#9c9c9c" stroke-width="0.9"/>
<text x="133.92" y="220.20" text-anchor="middle" font-size="7.6" >60</text>
<line x1="366.28" y1="211.50" x2="366.28" y2="213.50" stroke="#9c9c9c" stroke-width="0.9"/>
<text x="366.28" y="220.20" text-anchor="middle" font-size="7.6" >60</text>
<line x1="170.46" y1="211.50" x2="170.46" y2="213.50" stroke="#9c9c9c" stroke-width="0.9"/>
<text x="170.46" y="220.20" text-anchor="middle" font-size="7.6" >80</text>
<line x1="407.44" y1="211.50" x2="407.44" y2="213.50" stroke="#9c9c9c" stroke-width="0.9"/>
<text x="407.44" y="220.20" text-anchor="middle" font-size="7.6" >80</text>
<line x1="207.00" y1="211.50" x2="207.00" y2="213.50" stroke="#9c9c9c" stroke-width="0.9"/>
<text x="207.00" y="220.20" text-anchor="middle" font-size="7.6" >100</text>
<line x1="448.60" y1="211.50" x2="448.60" y2="213.50" stroke="#9c9c9c" stroke-width="0.9"/>
<text x="448.60" y="220.20" text-anchor="middle" font-size="7.6" >100</text>
<line x1="22.30" y1="186.80" x2="24.30" y2="186.80" stroke="#9c9c9c" stroke-width="0.9"/>
<text x="21.40" y="190.20" text-anchor="end" font-size="7.6" >1.0</text>
<line x1="22.30" y1="211.50" x2="24.30" y2="211.50" stroke="#9c9c9c" stroke-width="0.9"/>
<text x="21.40" y="214.20" text-anchor="end" font-size="7.6" >0.5</text>
<line x1="240.80" y1="186.80" x2="242.80" y2="186.80" stroke="#9c9c9c" stroke-width="0.9"/>
<text x="240.00" y="190.20" text-anchor="end" font-size="7.6" >1.0</text>
<line x1="240.80" y1="211.50" x2="242.80" y2="211.50" stroke="#9c9c9c" stroke-width="0.9"/>
<text x="240.00" y="214.20" text-anchor="end" font-size="7.6" >0.5</text>
<text x="116.60" y="230.10" text-anchor="middle" font-size="8.3" font-style="italic">τ</text>
<text x="345.40" y="230.10" text-anchor="middle" font-size="8.3" font-style="italic">τ</text>
<text transform="translate(6.7,199.3) rotate(-90)" text-anchor="middle" font-size="8.3">EDACF</text>
<polyline points="24.50,236.30 53.50,245.60 62.00,247.60 71.40,249.60 75.90,248.20 78.00,250.50 80.00,253.50" fill="none" stroke="#141414" stroke-width="1.3" stroke-linejoin="round" stroke-linecap="round" />
<polyline points="24.50,246.10 40.00,245.60 50.00,245.20 60.00,246.00 70.00,247.00 80.00,247.90 85.00,248.70 90.00,248.00 95.00,249.50 100.00,248.60 103.60,247.90 107.00,250.50 110.00,253.00" fill="none" stroke="#f29a68" stroke-width="1.1" stroke-linejoin="round" stroke-linecap="round" />
<polyline points="242.80,244.60 255.00,246.90 262.00,248.70 265.50,250.00 268.00,252.50" fill="none" stroke="#141414" stroke-width="1.3" stroke-linejoin="round" stroke-linecap="round" />
<polyline points="242.80,248.30 255.00,247.60 270.00,247.10 280.00,247.10 288.00,245.80 293.00,246.70 300.00,246.50 310.00,247.20 315.00,246.00 320.00,248.50 325.00,248.00 330.00,249.70 336.00,251.00 340.00,253.00" fill="none" stroke="#f29a68" stroke-width="1.1" stroke-linejoin="round" stroke-linecap="round" />
<rect x="24.30" y="236.10" width="182.70" height="23.90" fill="none" stroke="#9c9c9c" stroke-width="1.1"/>
<rect x="242.80" y="236.10" width="205.80" height="23.90" fill="none" stroke="#9c9c9c" stroke-width="1.1"/>
<text transform="translate(5.4,266.8) rotate(-90)" text-anchor="middle" font-size="8.3">EDSPEC</text>
<text x="20.20" y="258.00" text-anchor="end" font-size="7.6">10<tspan font-size="5.32" dy="-3.2">2</tspan></text>
<text x="239.60" y="258.00" text-anchor="end" font-size="7.6">10<tspan font-size="5.32" dy="-3.2">3</tspan></text>
<polyline points="307.30,251.00 307.30,254.00" fill="none" stroke="#141414" stroke-width="1.1" stroke-linejoin="round" stroke-linecap="round" />
</svg>
</body></html>
